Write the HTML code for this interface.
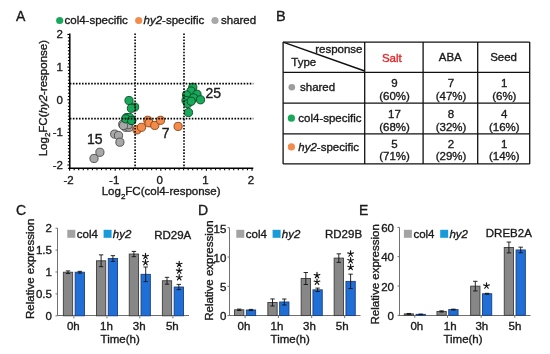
<!DOCTYPE html>
<html><head><meta charset="utf-8"><style>
html,body{margin:0;padding:0;background:#fff;width:550px;height:354px;overflow:hidden}
svg{display:block;font-family:"Liberation Sans", sans-serif;will-change:transform}
text{stroke-width:0.35px}
</style></head><body>
<svg width="550" height="354" viewBox="0 0 550 354">
<rect width="550" height="354" fill="#fff"/>
<text x="16" y="21.2" font-size="14" text-anchor="start" fill="#1a1a1a" stroke="#1a1a1a"  >A</text>
<text x="276" y="21.2" font-size="14.5" text-anchor="start" fill="#1a1a1a" stroke="#1a1a1a"  >B</text>
<text x="16" y="215" font-size="14" text-anchor="start" fill="#1a1a1a" stroke="#1a1a1a"  >C</text>
<text x="198" y="215.3" font-size="14" text-anchor="start" fill="#1a1a1a" stroke="#1a1a1a"  >D</text>
<text x="359" y="215.3" font-size="14" text-anchor="start" fill="#1a1a1a" stroke="#1a1a1a"  >E</text>
<circle cx="59.7" cy="20.5" r="3.6" fill="#18a85a" stroke="none" stroke-width="0"/>
<text x="64.5" y="24.2" font-size="11.5" text-anchor="start" fill="#1a1a1a" stroke="#1a1a1a"  >col4-specific</text>
<circle cx="138.7" cy="20.5" r="3.6" fill="#f28c4c" stroke="none" stroke-width="0"/>
<text x="143.5" y="24.2" font-size="11.5" text-anchor="start" fill="#1a1a1a" stroke="#1a1a1a"  ><tspan font-style="italic">hy2</tspan>-specific</text>
<circle cx="215" cy="20.5" r="3.6" fill="#a8a8a8" stroke="none" stroke-width="0"/>
<text x="221" y="24.2" font-size="11.5" text-anchor="start" fill="#1a1a1a" stroke="#1a1a1a"  >shared</text>
<line x1="67.89999999999999" y1="168.31" x2="69.8" y2="168.31" stroke="#000" stroke-width="1.1" />
<line x1="67.39999999999999" y1="165.04" x2="69.8" y2="165.04" stroke="#000" stroke-width="1.1" />
<line x1="67.89999999999999" y1="161.77" x2="69.8" y2="161.77" stroke="#000" stroke-width="1.1" />
<line x1="67.89999999999999" y1="158.51" x2="69.8" y2="158.51" stroke="#000" stroke-width="1.1" />
<line x1="67.89999999999999" y1="155.25" x2="69.8" y2="155.25" stroke="#000" stroke-width="1.1" />
<line x1="67.89999999999999" y1="151.98" x2="69.8" y2="151.98" stroke="#000" stroke-width="1.1" />
<line x1="67.89999999999999" y1="148.71" x2="69.8" y2="148.71" stroke="#000" stroke-width="1.1" />
<line x1="67.89999999999999" y1="145.45" x2="69.8" y2="145.45" stroke="#000" stroke-width="1.1" />
<line x1="67.89999999999999" y1="142.19" x2="69.8" y2="142.19" stroke="#000" stroke-width="1.1" />
<line x1="67.89999999999999" y1="138.92" x2="69.8" y2="138.92" stroke="#000" stroke-width="1.1" />
<line x1="67.89999999999999" y1="135.66" x2="69.8" y2="135.66" stroke="#000" stroke-width="1.1" />
<line x1="67.39999999999999" y1="132.39" x2="69.8" y2="132.39" stroke="#000" stroke-width="1.1" />
<line x1="67.89999999999999" y1="129.12" x2="69.8" y2="129.12" stroke="#000" stroke-width="1.1" />
<line x1="67.89999999999999" y1="125.86" x2="69.8" y2="125.86" stroke="#000" stroke-width="1.1" />
<line x1="67.89999999999999" y1="122.59" x2="69.8" y2="122.59" stroke="#000" stroke-width="1.1" />
<line x1="67.89999999999999" y1="119.33" x2="69.8" y2="119.33" stroke="#000" stroke-width="1.1" />
<line x1="67.89999999999999" y1="116.06" x2="69.8" y2="116.06" stroke="#000" stroke-width="1.1" />
<line x1="67.89999999999999" y1="112.8" x2="69.8" y2="112.8" stroke="#000" stroke-width="1.1" />
<line x1="67.89999999999999" y1="109.53" x2="69.8" y2="109.53" stroke="#000" stroke-width="1.1" />
<line x1="67.89999999999999" y1="106.27" x2="69.8" y2="106.27" stroke="#000" stroke-width="1.1" />
<line x1="67.89999999999999" y1="103.0" x2="69.8" y2="103.0" stroke="#000" stroke-width="1.1" />
<line x1="67.39999999999999" y1="99.74" x2="69.8" y2="99.74" stroke="#000" stroke-width="1.1" />
<line x1="67.89999999999999" y1="96.47" x2="69.8" y2="96.47" stroke="#000" stroke-width="1.1" />
<line x1="67.89999999999999" y1="93.21" x2="69.8" y2="93.21" stroke="#000" stroke-width="1.1" />
<line x1="67.89999999999999" y1="89.94" x2="69.8" y2="89.94" stroke="#000" stroke-width="1.1" />
<line x1="67.89999999999999" y1="86.68" x2="69.8" y2="86.68" stroke="#000" stroke-width="1.1" />
<line x1="67.89999999999999" y1="83.41" x2="69.8" y2="83.41" stroke="#000" stroke-width="1.1" />
<line x1="67.89999999999999" y1="80.15" x2="69.8" y2="80.15" stroke="#000" stroke-width="1.1" />
<line x1="67.89999999999999" y1="76.88" x2="69.8" y2="76.88" stroke="#000" stroke-width="1.1" />
<line x1="67.89999999999999" y1="73.62" x2="69.8" y2="73.62" stroke="#000" stroke-width="1.1" />
<line x1="67.89999999999999" y1="70.35" x2="69.8" y2="70.35" stroke="#000" stroke-width="1.1" />
<line x1="67.39999999999999" y1="67.09" x2="69.8" y2="67.09" stroke="#000" stroke-width="1.1" />
<line x1="67.89999999999999" y1="63.82" x2="69.8" y2="63.82" stroke="#000" stroke-width="1.1" />
<line x1="67.89999999999999" y1="60.56" x2="69.8" y2="60.56" stroke="#000" stroke-width="1.1" />
<line x1="67.89999999999999" y1="57.29" x2="69.8" y2="57.29" stroke="#000" stroke-width="1.1" />
<line x1="67.89999999999999" y1="54.03" x2="69.8" y2="54.03" stroke="#000" stroke-width="1.1" />
<line x1="67.89999999999999" y1="50.77" x2="69.8" y2="50.77" stroke="#000" stroke-width="1.1" />
<line x1="67.89999999999999" y1="47.5" x2="69.8" y2="47.5" stroke="#000" stroke-width="1.1" />
<line x1="67.89999999999999" y1="44.23" x2="69.8" y2="44.23" stroke="#000" stroke-width="1.1" />
<line x1="67.89999999999999" y1="40.97" x2="69.8" y2="40.97" stroke="#000" stroke-width="1.1" />
<line x1="67.89999999999999" y1="37.7" x2="69.8" y2="37.7" stroke="#000" stroke-width="1.1" />
<line x1="67.39999999999999" y1="34.44" x2="69.8" y2="34.44" stroke="#000" stroke-width="1.1" />
<line x1="69.6" y1="168.3" x2="69.6" y2="170.70000000000002" stroke="#000" stroke-width="1.1" />
<line x1="74.16" y1="168.3" x2="74.16" y2="170.20000000000002" stroke="#000" stroke-width="1.1" />
<line x1="78.72" y1="168.3" x2="78.72" y2="170.20000000000002" stroke="#000" stroke-width="1.1" />
<line x1="83.28" y1="168.3" x2="83.28" y2="170.20000000000002" stroke="#000" stroke-width="1.1" />
<line x1="87.84" y1="168.3" x2="87.84" y2="170.20000000000002" stroke="#000" stroke-width="1.1" />
<line x1="92.4" y1="168.3" x2="92.4" y2="170.20000000000002" stroke="#000" stroke-width="1.1" />
<line x1="96.96" y1="168.3" x2="96.96" y2="170.20000000000002" stroke="#000" stroke-width="1.1" />
<line x1="101.52" y1="168.3" x2="101.52" y2="170.20000000000002" stroke="#000" stroke-width="1.1" />
<line x1="106.08" y1="168.3" x2="106.08" y2="170.20000000000002" stroke="#000" stroke-width="1.1" />
<line x1="110.64" y1="168.3" x2="110.64" y2="170.20000000000002" stroke="#000" stroke-width="1.1" />
<line x1="115.2" y1="168.3" x2="115.2" y2="170.70000000000002" stroke="#000" stroke-width="1.1" />
<line x1="119.76" y1="168.3" x2="119.76" y2="170.20000000000002" stroke="#000" stroke-width="1.1" />
<line x1="124.32" y1="168.3" x2="124.32" y2="170.20000000000002" stroke="#000" stroke-width="1.1" />
<line x1="128.88" y1="168.3" x2="128.88" y2="170.20000000000002" stroke="#000" stroke-width="1.1" />
<line x1="133.44" y1="168.3" x2="133.44" y2="170.20000000000002" stroke="#000" stroke-width="1.1" />
<line x1="138.0" y1="168.3" x2="138.0" y2="170.20000000000002" stroke="#000" stroke-width="1.1" />
<line x1="142.56" y1="168.3" x2="142.56" y2="170.20000000000002" stroke="#000" stroke-width="1.1" />
<line x1="147.12" y1="168.3" x2="147.12" y2="170.20000000000002" stroke="#000" stroke-width="1.1" />
<line x1="151.68" y1="168.3" x2="151.68" y2="170.20000000000002" stroke="#000" stroke-width="1.1" />
<line x1="156.24" y1="168.3" x2="156.24" y2="170.20000000000002" stroke="#000" stroke-width="1.1" />
<line x1="160.8" y1="168.3" x2="160.8" y2="170.70000000000002" stroke="#000" stroke-width="1.1" />
<line x1="165.36" y1="168.3" x2="165.36" y2="170.20000000000002" stroke="#000" stroke-width="1.1" />
<line x1="169.92" y1="168.3" x2="169.92" y2="170.20000000000002" stroke="#000" stroke-width="1.1" />
<line x1="174.48" y1="168.3" x2="174.48" y2="170.20000000000002" stroke="#000" stroke-width="1.1" />
<line x1="179.04" y1="168.3" x2="179.04" y2="170.20000000000002" stroke="#000" stroke-width="1.1" />
<line x1="183.6" y1="168.3" x2="183.6" y2="170.20000000000002" stroke="#000" stroke-width="1.1" />
<line x1="188.16" y1="168.3" x2="188.16" y2="170.20000000000002" stroke="#000" stroke-width="1.1" />
<line x1="192.72" y1="168.3" x2="192.72" y2="170.20000000000002" stroke="#000" stroke-width="1.1" />
<line x1="197.28" y1="168.3" x2="197.28" y2="170.20000000000002" stroke="#000" stroke-width="1.1" />
<line x1="201.84" y1="168.3" x2="201.84" y2="170.20000000000002" stroke="#000" stroke-width="1.1" />
<line x1="206.4" y1="168.3" x2="206.4" y2="170.70000000000002" stroke="#000" stroke-width="1.1" />
<line x1="210.96" y1="168.3" x2="210.96" y2="170.20000000000002" stroke="#000" stroke-width="1.1" />
<line x1="215.52" y1="168.3" x2="215.52" y2="170.20000000000002" stroke="#000" stroke-width="1.1" />
<line x1="220.08" y1="168.3" x2="220.08" y2="170.20000000000002" stroke="#000" stroke-width="1.1" />
<line x1="224.64" y1="168.3" x2="224.64" y2="170.20000000000002" stroke="#000" stroke-width="1.1" />
<line x1="229.2" y1="168.3" x2="229.2" y2="170.20000000000002" stroke="#000" stroke-width="1.1" />
<line x1="233.76" y1="168.3" x2="233.76" y2="170.20000000000002" stroke="#000" stroke-width="1.1" />
<line x1="238.32" y1="168.3" x2="238.32" y2="170.20000000000002" stroke="#000" stroke-width="1.1" />
<line x1="242.88" y1="168.3" x2="242.88" y2="170.20000000000002" stroke="#000" stroke-width="1.1" />
<line x1="247.44" y1="168.3" x2="247.44" y2="170.20000000000002" stroke="#000" stroke-width="1.1" />
<line x1="252.0" y1="168.3" x2="252.0" y2="170.70000000000002" stroke="#000" stroke-width="1.1" />
<text x="63" y="38.44" font-size="11.5" text-anchor="end" fill="#1a1a1a" stroke="#1a1a1a"  >2</text>
<text x="63" y="71.09" font-size="11.5" text-anchor="end" fill="#1a1a1a" stroke="#1a1a1a"  >1</text>
<text x="63" y="103.74" font-size="11.5" text-anchor="end" fill="#1a1a1a" stroke="#1a1a1a"  >0</text>
<text x="63" y="136.39" font-size="11.5" text-anchor="end" fill="#1a1a1a" stroke="#1a1a1a"  >-1</text>
<text x="63" y="169.04" font-size="11.5" text-anchor="end" fill="#1a1a1a" stroke="#1a1a1a"  >-2</text>
<text x="68.6" y="184.2" font-size="11.5" text-anchor="middle" fill="#1a1a1a" stroke="#1a1a1a"  >-2</text>
<text x="114.2" y="184.2" font-size="11.5" text-anchor="middle" fill="#1a1a1a" stroke="#1a1a1a"  >-1</text>
<text x="159.8" y="184.2" font-size="11.5" text-anchor="middle" fill="#1a1a1a" stroke="#1a1a1a"  >0</text>
<text x="205.4" y="184.2" font-size="11.5" text-anchor="middle" fill="#1a1a1a" stroke="#1a1a1a"  >1</text>
<text x="251.0" y="184.2" font-size="11.5" text-anchor="middle" fill="#1a1a1a" stroke="#1a1a1a"  >2</text>
<text x="101.7" y="195.4" font-size="11.5" text-anchor="start" fill="#1a1a1a" stroke="#1a1a1a"  >Log<tspan font-size="8" dy="3.3">2</tspan><tspan dy="-3.3">FC(col4-response)</tspan></text>
<g transform="translate(47.1,156.3) rotate(-90)"><text x="0" y="0" font-size="11.5" fill="#1a1a1a" stroke="#1a1a1a">Log<tspan font-size="8" dy="3.3">2</tspan><tspan dy="-3.3">FC(</tspan><tspan font-style="italic">hy2</tspan>-response)</text></g>
<circle cx="114.7" cy="134.1" r="4.1" fill="#a8a8a8" stroke="#4a4a4a" stroke-width="0.9"/>
<circle cx="118.5" cy="135.5" r="4.1" fill="#a8a8a8" stroke="#4a4a4a" stroke-width="0.9"/>
<circle cx="119.9" cy="142.2" r="4.1" fill="#a8a8a8" stroke="#4a4a4a" stroke-width="0.9"/>
<circle cx="99.9" cy="152.3" r="4.1" fill="#a8a8a8" stroke="#4a4a4a" stroke-width="0.9"/>
<circle cx="94" cy="158.5" r="4.1" fill="#a8a8a8" stroke="#4a4a4a" stroke-width="0.9"/>
<circle cx="122.7" cy="124.3" r="4.1" fill="#a8a8a8" stroke="#4a4a4a" stroke-width="0.9"/>
<circle cx="125.7" cy="127.3" r="4.1" fill="#a8a8a8" stroke="#4a4a4a" stroke-width="0.9"/>
<circle cx="129" cy="127.3" r="4.1" fill="#a8a8a8" stroke="#4a4a4a" stroke-width="0.9"/>
<circle cx="128.2" cy="124.7" r="4.1" fill="#a8a8a8" stroke="#4a4a4a" stroke-width="0.9"/>
<circle cx="123.5" cy="125.5" r="4.1" fill="#a8a8a8" stroke="#4a4a4a" stroke-width="0.9"/>
<circle cx="137" cy="129.8" r="4.1" fill="#f28c4c" stroke="#8a4014" stroke-width="0.9"/>
<circle cx="141.5" cy="127.3" r="4.1" fill="#f28c4c" stroke="#8a4014" stroke-width="0.9"/>
<circle cx="147.8" cy="120.3" r="4.1" fill="#f28c4c" stroke="#8a4014" stroke-width="0.9"/>
<circle cx="149" cy="122.8" r="4.1" fill="#f28c4c" stroke="#8a4014" stroke-width="0.9"/>
<circle cx="154.8" cy="125.4" r="4.1" fill="#f28c4c" stroke="#8a4014" stroke-width="0.9"/>
<circle cx="160.5" cy="120.3" r="4.1" fill="#f28c4c" stroke="#8a4014" stroke-width="0.9"/>
<circle cx="178.1" cy="126.4" r="4.1" fill="#f28c4c" stroke="#8a4014" stroke-width="0.9"/>
<circle cx="129" cy="100.5" r="4.1" fill="#18a85a" stroke="#0a4a24" stroke-width="0.9"/>
<circle cx="134.6" cy="107" r="4.1" fill="#18a85a" stroke="#0a4a24" stroke-width="0.9"/>
<circle cx="131.4" cy="108.3" r="4.1" fill="#18a85a" stroke="#0a4a24" stroke-width="0.9"/>
<circle cx="126.8" cy="117.5" r="4.1" fill="#18a85a" stroke="#0a4a24" stroke-width="0.9"/>
<circle cx="131.8" cy="120.3" r="4.1" fill="#18a85a" stroke="#0a4a24" stroke-width="0.9"/>
<circle cx="129.5" cy="117.5" r="4.1" fill="#18a85a" stroke="#0a4a24" stroke-width="0.9"/>
<circle cx="125.7" cy="118.8" r="4.1" fill="#18a85a" stroke="#0a4a24" stroke-width="0.9"/>
<circle cx="131.6" cy="120.5" r="4.1" fill="#18a85a" stroke="#0a4a24" stroke-width="0.9"/>
<circle cx="192.8" cy="87.3" r="4.1" fill="#18a85a" stroke="#0a4a24" stroke-width="0.9"/>
<circle cx="191.1" cy="91" r="4.1" fill="#18a85a" stroke="#0a4a24" stroke-width="0.9"/>
<circle cx="197" cy="94.3" r="4.1" fill="#18a85a" stroke="#0a4a24" stroke-width="0.9"/>
<circle cx="186.5" cy="95" r="4.1" fill="#18a85a" stroke="#0a4a24" stroke-width="0.9"/>
<circle cx="186" cy="100.5" r="4.1" fill="#18a85a" stroke="#0a4a24" stroke-width="0.9"/>
<circle cx="187.8" cy="103.6" r="4.1" fill="#18a85a" stroke="#0a4a24" stroke-width="0.9"/>
<circle cx="188.5" cy="112.5" r="4.1" fill="#18a85a" stroke="#0a4a24" stroke-width="0.9"/>
<circle cx="193.5" cy="97.9" r="4.1" fill="#18a85a" stroke="#0a4a24" stroke-width="0.9"/>
<circle cx="200.5" cy="99.8" r="4.1" fill="#18a85a" stroke="#0a4a24" stroke-width="0.9"/>
<circle cx="191.2" cy="101.2" r="4.1" fill="#18a85a" stroke="#0a4a24" stroke-width="0.9"/>
<line x1="69.8" y1="83.6" x2="253.3" y2="83.6" stroke="#000" stroke-width="1.6" stroke-dasharray="1.6 1.45"/>
<line x1="69.8" y1="118.6" x2="253.3" y2="118.6" stroke="#000" stroke-width="1.6" stroke-dasharray="1.6 1.45"/>
<line x1="135.1" y1="33.4" x2="135.1" y2="168.3" stroke="#000" stroke-width="1.6" stroke-dasharray="1.6 1.45"/>
<line x1="184" y1="33.4" x2="184" y2="168.3" stroke="#000" stroke-width="1.6" stroke-dasharray="1.6 1.45"/>
<line x1="69.8" y1="33.4" x2="69.8" y2="169.0" stroke="#000" stroke-width="1.5" />
<line x1="69.1" y1="168.3" x2="253.3" y2="168.3" stroke="#000" stroke-width="1.5" />
<text x="87" y="144" font-size="14" text-anchor="start" fill="#1a1a1a" stroke="#1a1a1a"  >15</text>
<text x="161.8" y="138.2" font-size="14" text-anchor="start" fill="#1a1a1a" stroke="#1a1a1a"  >7</text>
<text x="205.5" y="97.6" font-size="14" text-anchor="start" fill="#1a1a1a" stroke="#1a1a1a"  >25</text>
<line x1="283.1" y1="42.1" x2="283.1" y2="163.9" stroke="#111" stroke-width="1.3" />
<line x1="364.7" y1="42.1" x2="364.7" y2="163.9" stroke="#111" stroke-width="1.3" />
<line x1="423.1" y1="42.1" x2="423.1" y2="163.9" stroke="#111" stroke-width="1.3" />
<line x1="477.7" y1="42.1" x2="477.7" y2="163.9" stroke="#111" stroke-width="1.3" />
<line x1="529.7" y1="42.1" x2="529.7" y2="163.9" stroke="#111" stroke-width="1.3" />
<line x1="283.1" y1="42.1" x2="529.7" y2="42.1" stroke="#111" stroke-width="1.3" />
<line x1="283.1" y1="72.4" x2="529.7" y2="72.4" stroke="#111" stroke-width="1.3" />
<line x1="283.1" y1="103.2" x2="529.7" y2="103.2" stroke="#111" stroke-width="1.3" />
<line x1="283.1" y1="133.8" x2="529.7" y2="133.8" stroke="#111" stroke-width="1.3" />
<line x1="283.1" y1="163.9" x2="529.7" y2="163.9" stroke="#111" stroke-width="1.3" />
<line x1="283.1" y1="42.1" x2="364.7" y2="71.0" stroke="#111" stroke-width="1.5" />
<text x="362.5" y="52.9" font-size="11.5" text-anchor="end" fill="#1a1a1a" stroke="#1a1a1a"  >response</text>
<text x="291.3" y="65.6" font-size="11.5" text-anchor="start" fill="#1a1a1a" stroke="#1a1a1a"  >Type</text>
<text x="391.8" y="61.5" font-size="11.5" text-anchor="middle" fill="#e8262a" stroke="#e8262a"  >Salt</text>
<text x="450.3" y="61.0" font-size="11.5" text-anchor="middle" fill="#1a1a1a" stroke="#1a1a1a"  >ABA</text>
<text x="503.6" y="61.0" font-size="11.5" text-anchor="middle" fill="#1a1a1a" stroke="#1a1a1a"  >Seed</text>
<circle cx="291.8" cy="87.2" r="3.3" fill="#9d9d9d" stroke="none" stroke-width="0"/>
<text x="300.0" y="90.8" font-size="11.5" text-anchor="start" fill="#1a1a1a" stroke="#1a1a1a"  >shared</text>
<circle cx="291.4" cy="118.2" r="3.6" fill="#18a85a" stroke="none" stroke-width="0"/>
<text x="298.3" y="121.6" font-size="11.5" text-anchor="start" fill="#1a1a1a" stroke="#1a1a1a"  >col4-specific</text>
<circle cx="291.4" cy="146.9" r="3.6" fill="#f28c4c" stroke="none" stroke-width="0"/>
<text x="298.3" y="150.8" font-size="11.5" text-anchor="start" fill="#1a1a1a" stroke="#1a1a1a"  ><tspan font-style="italic">hy2</tspan>-specific</text>
<text x="394.5" y="86.8" font-size="11.5" text-anchor="middle" fill="#1a1a1a" stroke="#1a1a1a"  >9</text>
<text x="394.5" y="100.2" font-size="11.5" text-anchor="middle" fill="#1a1a1a" stroke="#1a1a1a"  >(60%)</text>
<text x="451.0" y="86.8" font-size="11.5" text-anchor="middle" fill="#1a1a1a" stroke="#1a1a1a"  >7</text>
<text x="451.0" y="100.2" font-size="11.5" text-anchor="middle" fill="#1a1a1a" stroke="#1a1a1a"  >(47%)</text>
<text x="504.3" y="86.8" font-size="11.5" text-anchor="middle" fill="#1a1a1a" stroke="#1a1a1a"  >1</text>
<text x="504.3" y="100.2" font-size="11.5" text-anchor="middle" fill="#1a1a1a" stroke="#1a1a1a"  >(6%)</text>
<text x="394.5" y="117.8" font-size="11.5" text-anchor="middle" fill="#1a1a1a" stroke="#1a1a1a"  >17</text>
<text x="394.5" y="130.8" font-size="11.5" text-anchor="middle" fill="#1a1a1a" stroke="#1a1a1a"  >(68%)</text>
<text x="451.0" y="117.8" font-size="11.5" text-anchor="middle" fill="#1a1a1a" stroke="#1a1a1a"  >8</text>
<text x="451.0" y="130.8" font-size="11.5" text-anchor="middle" fill="#1a1a1a" stroke="#1a1a1a"  >(32%)</text>
<text x="504.3" y="117.8" font-size="11.5" text-anchor="middle" fill="#1a1a1a" stroke="#1a1a1a"  >4</text>
<text x="504.3" y="130.8" font-size="11.5" text-anchor="middle" fill="#1a1a1a" stroke="#1a1a1a"  >(16%)</text>
<text x="394.5" y="148.2" font-size="11.5" text-anchor="middle" fill="#1a1a1a" stroke="#1a1a1a"  >5</text>
<text x="394.5" y="159.8" font-size="11.5" text-anchor="middle" fill="#1a1a1a" stroke="#1a1a1a"  >(71%)</text>
<text x="451.0" y="148.2" font-size="11.5" text-anchor="middle" fill="#1a1a1a" stroke="#1a1a1a"  >2</text>
<text x="451.0" y="159.8" font-size="11.5" text-anchor="middle" fill="#1a1a1a" stroke="#1a1a1a"  >(29%)</text>
<text x="504.3" y="148.2" font-size="11.5" text-anchor="middle" fill="#1a1a1a" stroke="#1a1a1a"  >1</text>
<text x="504.3" y="159.8" font-size="11.5" text-anchor="middle" fill="#1a1a1a" stroke="#1a1a1a"  >(14%)</text>
<line x1="57.5" y1="228.20000000000002" x2="57.5" y2="316" stroke="#707070" stroke-width="1" />
<line x1="57.5" y1="315.5" x2="189" y2="315.5" stroke="#707070" stroke-width="1" />
<line x1="55.5" y1="315.8" x2="57.5" y2="315.8" stroke="#707070" stroke-width="1" />
<text x="51.9" y="319.8" font-size="11.5" text-anchor="end" fill="#1a1a1a" stroke="#1a1a1a"  >0</text>
<line x1="55.5" y1="293.9" x2="57.5" y2="293.9" stroke="#707070" stroke-width="1" />
<text x="51.9" y="297.9" font-size="11.5" text-anchor="end" fill="#1a1a1a" stroke="#1a1a1a"  >0.5</text>
<line x1="55.5" y1="272.0" x2="57.5" y2="272.0" stroke="#707070" stroke-width="1" />
<text x="51.9" y="276.0" font-size="11.5" text-anchor="end" fill="#1a1a1a" stroke="#1a1a1a"  >1</text>
<line x1="55.5" y1="250.1" x2="57.5" y2="250.1" stroke="#707070" stroke-width="1" />
<text x="51.9" y="254.1" font-size="11.5" text-anchor="end" fill="#1a1a1a" stroke="#1a1a1a"  >1.5</text>
<line x1="55.5" y1="228.2" x2="57.5" y2="228.2" stroke="#707070" stroke-width="1" />
<text x="51.9" y="232.2" font-size="11.5" text-anchor="end" fill="#1a1a1a" stroke="#1a1a1a"  >2</text>
<rect x="63.35" y="272.22" width="9.3" height="43.58" fill="#878787" stroke="#3c3c3c" stroke-width="0.9"/>
<line x1="68.0" y1="270.91" x2="68.0" y2="273.53" stroke="#111" stroke-width="0.9" />
<line x1="65.8" y1="270.91" x2="70.2" y2="270.91" stroke="#111" stroke-width="0.9" />
<line x1="65.8" y1="273.53" x2="70.2" y2="273.53" stroke="#111" stroke-width="0.9" />
<rect x="75.15" y="272.22" width="9.3" height="43.58" fill="#1f6fd6" stroke="#1b3f80" stroke-width="0.9"/>
<line x1="79.8" y1="271.34" x2="79.8" y2="273.1" stroke="#111" stroke-width="0.9" />
<line x1="77.6" y1="271.34" x2="82.0" y2="271.34" stroke="#111" stroke-width="0.9" />
<line x1="77.6" y1="273.1" x2="82.0" y2="273.1" stroke="#111" stroke-width="0.9" />
<line x1="73.9" y1="315.8" x2="73.9" y2="318.3" stroke="#707070" stroke-width="1" />
<rect x="96.45" y="260.79" width="9.3" height="55.01" fill="#878787" stroke="#3c3c3c" stroke-width="0.9"/>
<line x1="101.1" y1="254.87" x2="101.1" y2="266.7" stroke="#111" stroke-width="0.9" />
<line x1="98.9" y1="254.87" x2="103.3" y2="254.87" stroke="#111" stroke-width="0.9" />
<line x1="98.9" y1="266.7" x2="103.3" y2="266.7" stroke="#111" stroke-width="0.9" />
<rect x="108.25" y="258.51" width="9.3" height="57.29" fill="#1f6fd6" stroke="#1b3f80" stroke-width="0.9"/>
<line x1="112.9" y1="255.66" x2="112.9" y2="261.36" stroke="#111" stroke-width="0.9" />
<line x1="110.7" y1="255.66" x2="115.1" y2="255.66" stroke="#111" stroke-width="0.9" />
<line x1="110.7" y1="261.36" x2="115.1" y2="261.36" stroke="#111" stroke-width="0.9" />
<line x1="107" y1="315.8" x2="107" y2="318.3" stroke="#707070" stroke-width="1" />
<rect x="129.25" y="254.04" width="9.3" height="61.76" fill="#878787" stroke="#3c3c3c" stroke-width="0.9"/>
<line x1="133.9" y1="251.41" x2="133.9" y2="256.67" stroke="#111" stroke-width="0.9" />
<line x1="131.7" y1="251.41" x2="136.1" y2="251.41" stroke="#111" stroke-width="0.9" />
<line x1="131.7" y1="256.67" x2="136.1" y2="256.67" stroke="#111" stroke-width="0.9" />
<rect x="141.05" y="274.32" width="9.3" height="41.48" fill="#1f6fd6" stroke="#1b3f80" stroke-width="0.9"/>
<line x1="145.7" y1="267.01" x2="145.7" y2="281.64" stroke="#111" stroke-width="0.9" />
<line x1="143.5" y1="267.01" x2="147.9" y2="267.01" stroke="#111" stroke-width="0.9" />
<line x1="143.5" y1="281.64" x2="147.9" y2="281.64" stroke="#111" stroke-width="0.9" />
<line x1="139.8" y1="315.8" x2="139.8" y2="318.3" stroke="#707070" stroke-width="1" />
<rect x="162.35" y="280.76" width="9.3" height="35.04" fill="#878787" stroke="#3c3c3c" stroke-width="0.9"/>
<line x1="167.0" y1="277.34" x2="167.0" y2="284.18" stroke="#111" stroke-width="0.9" />
<line x1="164.8" y1="277.34" x2="169.2" y2="277.34" stroke="#111" stroke-width="0.9" />
<line x1="164.8" y1="284.18" x2="169.2" y2="284.18" stroke="#111" stroke-width="0.9" />
<rect x="174.15" y="287.02" width="9.3" height="28.78" fill="#1f6fd6" stroke="#1b3f80" stroke-width="0.9"/>
<line x1="178.8" y1="284.4" x2="178.8" y2="289.65" stroke="#111" stroke-width="0.9" />
<line x1="176.6" y1="284.4" x2="181.0" y2="284.4" stroke="#111" stroke-width="0.9" />
<line x1="176.6" y1="289.65" x2="181.0" y2="289.65" stroke="#111" stroke-width="0.9" />
<line x1="172.9" y1="315.8" x2="172.9" y2="318.3" stroke="#707070" stroke-width="1" />
<text x="73.3" y="330.2" font-size="11.5" text-anchor="middle" fill="#1a1a1a" stroke="#1a1a1a"  >0h</text>
<text x="106.4" y="330.2" font-size="11.5" text-anchor="middle" fill="#1a1a1a" stroke="#1a1a1a"  >1h</text>
<text x="139.2" y="330.2" font-size="11.5" text-anchor="middle" fill="#1a1a1a" stroke="#1a1a1a"  >3h</text>
<text x="172.3" y="330.2" font-size="11.5" text-anchor="middle" fill="#1a1a1a" stroke="#1a1a1a"  >5h</text>
<text x="120.2" y="343.0" font-size="11.5" text-anchor="middle" fill="#1a1a1a" stroke="#1a1a1a"  >Time(h)</text>
<rect x="67.3" y="229.8" width="8" height="8" fill="#a3a3a3" stroke="none" stroke-width="0"/>
<text x="76.8" y="238.0" font-size="11.5" text-anchor="start" fill="#1a1a1a" stroke="#1a1a1a"  >col4</text>
<rect x="103.6" y="229.8" width="8" height="8" fill="#1a9bd9" stroke="none" stroke-width="0"/>
<text x="112.8" y="238.0" font-size="11.5" text-anchor="start" fill="#1a1a1a" stroke="#1a1a1a"  ><tspan font-style="italic">hy2</tspan></text>
<text x="154.2" y="238.6" font-size="11.5" text-anchor="start" fill="#1a1a1a" stroke="#1a1a1a"  >RD29A</text>
<g transform="translate(34.1,319) rotate(-90)"><text x="0" y="0" font-size="11.5" fill="#1a1a1a" stroke="#1a1a1a">Relative expression</text></g>
<path d="M145.50 256.30L145.50 253.30M145.50 256.30L148.35 255.37M145.50 256.30L147.26 258.73M145.50 256.30L143.74 258.73M145.50 256.30L142.65 255.37" stroke="#111" stroke-width="1.15" stroke-linecap="round" fill="none"/>
<path d="M145.50 262.50L145.50 259.50M145.50 262.50L148.35 261.57M145.50 262.50L147.26 264.93M145.50 262.50L143.74 264.93M145.50 262.50L142.65 261.57" stroke="#111" stroke-width="1.15" stroke-linecap="round" fill="none"/>
<path d="M179.20 264.20L179.20 261.20M179.20 264.20L182.05 263.27M179.20 264.20L180.96 266.63M179.20 264.20L177.44 266.63M179.20 264.20L176.35 263.27" stroke="#111" stroke-width="1.15" stroke-linecap="round" fill="none"/>
<path d="M179.20 270.85L179.20 267.85M179.20 270.85L182.05 269.92M179.20 270.85L180.96 273.28M179.20 270.85L177.44 273.28M179.20 270.85L176.35 269.92" stroke="#111" stroke-width="1.15" stroke-linecap="round" fill="none"/>
<path d="M179.20 277.50L179.20 274.50M179.20 277.50L182.05 276.57M179.20 277.50L180.96 279.93M179.20 277.50L177.44 279.93M179.20 277.50L176.35 276.57" stroke="#111" stroke-width="1.15" stroke-linecap="round" fill="none"/>
<line x1="229.5" y1="227.70000000000002" x2="229.5" y2="316" stroke="#707070" stroke-width="1" />
<line x1="229.5" y1="315.5" x2="360.5" y2="315.5" stroke="#707070" stroke-width="1" />
<line x1="227.5" y1="315.6" x2="229.5" y2="315.6" stroke="#707070" stroke-width="1" />
<text x="226.4" y="320.4" font-size="11.5" text-anchor="end" fill="#1a1a1a" stroke="#1a1a1a"  >0</text>
<line x1="227.5" y1="286.3" x2="229.5" y2="286.3" stroke="#707070" stroke-width="1" />
<text x="226.4" y="291.1" font-size="11.5" text-anchor="end" fill="#1a1a1a" stroke="#1a1a1a"  >5</text>
<line x1="227.5" y1="257.0" x2="229.5" y2="257.0" stroke="#707070" stroke-width="1" />
<text x="226.4" y="261.8" font-size="11.5" text-anchor="end" fill="#1a1a1a" stroke="#1a1a1a"  >10</text>
<line x1="227.5" y1="227.7" x2="229.5" y2="227.7" stroke="#707070" stroke-width="1" />
<text x="226.4" y="232.5" font-size="11.5" text-anchor="end" fill="#1a1a1a" stroke="#1a1a1a"  >15</text>
<rect x="234.55" y="309.8" width="9.3" height="5.8" fill="#878787" stroke="#3c3c3c" stroke-width="0.9"/>
<line x1="239.2" y1="309.1" x2="239.2" y2="310.5" stroke="#111" stroke-width="0.9" />
<line x1="237.0" y1="309.1" x2="241.4" y2="309.1" stroke="#111" stroke-width="0.9" />
<line x1="237.0" y1="310.5" x2="241.4" y2="310.5" stroke="#111" stroke-width="0.9" />
<rect x="246.35" y="309.97" width="9.3" height="5.63" fill="#1f6fd6" stroke="#1b3f80" stroke-width="0.9"/>
<line x1="251.0" y1="309.39" x2="251.0" y2="310.56" stroke="#111" stroke-width="0.9" />
<line x1="248.8" y1="309.39" x2="253.2" y2="309.39" stroke="#111" stroke-width="0.9" />
<line x1="248.8" y1="310.56" x2="253.2" y2="310.56" stroke="#111" stroke-width="0.9" />
<line x1="245.1" y1="315.6" x2="245.1" y2="318.1" stroke="#707070" stroke-width="1" />
<rect x="267.85" y="302.47" width="9.3" height="13.13" fill="#878787" stroke="#3c3c3c" stroke-width="0.9"/>
<line x1="272.5" y1="298.96" x2="272.5" y2="305.99" stroke="#111" stroke-width="0.9" />
<line x1="270.3" y1="298.96" x2="274.7" y2="298.96" stroke="#111" stroke-width="0.9" />
<line x1="270.3" y1="305.99" x2="274.7" y2="305.99" stroke="#111" stroke-width="0.9" />
<rect x="279.65" y="302.0" width="9.3" height="13.6" fill="#1f6fd6" stroke="#1b3f80" stroke-width="0.9"/>
<line x1="284.3" y1="299.02" x2="284.3" y2="304.99" stroke="#111" stroke-width="0.9" />
<line x1="282.1" y1="299.02" x2="286.5" y2="299.02" stroke="#111" stroke-width="0.9" />
<line x1="282.1" y1="304.99" x2="286.5" y2="304.99" stroke="#111" stroke-width="0.9" />
<line x1="278.4" y1="315.6" x2="278.4" y2="318.1" stroke="#707070" stroke-width="1" />
<rect x="301.15" y="278.51" width="9.3" height="37.09" fill="#878787" stroke="#3c3c3c" stroke-width="0.9"/>
<line x1="305.8" y1="272.53" x2="305.8" y2="284.48" stroke="#111" stroke-width="0.9" />
<line x1="303.6" y1="272.53" x2="308.0" y2="272.53" stroke="#111" stroke-width="0.9" />
<line x1="303.6" y1="284.48" x2="308.0" y2="284.48" stroke="#111" stroke-width="0.9" />
<rect x="312.95" y="289.82" width="9.3" height="25.78" fill="#1f6fd6" stroke="#1b3f80" stroke-width="0.9"/>
<line x1="317.6" y1="288.12" x2="317.6" y2="291.52" stroke="#111" stroke-width="0.9" />
<line x1="315.4" y1="288.12" x2="319.8" y2="288.12" stroke="#111" stroke-width="0.9" />
<line x1="315.4" y1="291.52" x2="319.8" y2="291.52" stroke="#111" stroke-width="0.9" />
<line x1="311.7" y1="315.6" x2="311.7" y2="318.1" stroke="#707070" stroke-width="1" />
<rect x="334.15" y="258.11" width="9.3" height="57.49" fill="#878787" stroke="#3c3c3c" stroke-width="0.9"/>
<line x1="338.8" y1="253.84" x2="338.8" y2="262.39" stroke="#111" stroke-width="0.9" />
<line x1="336.6" y1="253.84" x2="341.0" y2="253.84" stroke="#111" stroke-width="0.9" />
<line x1="336.6" y1="262.39" x2="341.0" y2="262.39" stroke="#111" stroke-width="0.9" />
<rect x="345.95" y="281.38" width="9.3" height="34.22" fill="#1f6fd6" stroke="#1b3f80" stroke-width="0.9"/>
<line x1="350.6" y1="274.17" x2="350.6" y2="288.59" stroke="#111" stroke-width="0.9" />
<line x1="348.4" y1="274.17" x2="352.8" y2="274.17" stroke="#111" stroke-width="0.9" />
<line x1="348.4" y1="288.59" x2="352.8" y2="288.59" stroke="#111" stroke-width="0.9" />
<line x1="344.7" y1="315.6" x2="344.7" y2="318.1" stroke="#707070" stroke-width="1" />
<text x="243.9" y="330.2" font-size="11.5" text-anchor="middle" fill="#1a1a1a" stroke="#1a1a1a"  >0h</text>
<text x="277.0" y="330.2" font-size="11.5" text-anchor="middle" fill="#1a1a1a" stroke="#1a1a1a"  >1h</text>
<text x="309.5" y="330.2" font-size="11.5" text-anchor="middle" fill="#1a1a1a" stroke="#1a1a1a"  >3h</text>
<text x="342.2" y="330.2" font-size="11.5" text-anchor="middle" fill="#1a1a1a" stroke="#1a1a1a"  >5h</text>
<text x="290.2" y="343.0" font-size="11.5" text-anchor="middle" fill="#1a1a1a" stroke="#1a1a1a"  >Time(h)</text>
<rect x="236.3" y="229.8" width="8" height="8" fill="#a3a3a3" stroke="none" stroke-width="0"/>
<text x="245.8" y="238.0" font-size="11.5" text-anchor="start" fill="#1a1a1a" stroke="#1a1a1a"  >col4</text>
<rect x="272.6" y="229.8" width="8" height="8" fill="#1a9bd9" stroke="none" stroke-width="0"/>
<text x="281.8" y="238.0" font-size="11.5" text-anchor="start" fill="#1a1a1a" stroke="#1a1a1a"  ><tspan font-style="italic">hy2</tspan></text>
<text x="325.0" y="237.8" font-size="11.5" text-anchor="start" fill="#1a1a1a" stroke="#1a1a1a"  >RD29B</text>
<g transform="translate(212.6,320.8) rotate(-90)"><text x="0" y="0" font-size="11.5" fill="#1a1a1a" stroke="#1a1a1a">Relative expression</text></g>
<path d="M317.00 275.40L317.00 272.40M317.00 275.40L319.85 274.47M317.00 275.40L318.76 277.83M317.00 275.40L315.24 277.83M317.00 275.40L314.15 274.47" stroke="#111" stroke-width="1.15" stroke-linecap="round" fill="none"/>
<path d="M317.00 282.00L317.00 279.00M317.00 282.00L319.85 281.07M317.00 282.00L318.76 284.43M317.00 282.00L315.24 284.43M317.00 282.00L314.15 281.07" stroke="#111" stroke-width="1.15" stroke-linecap="round" fill="none"/>
<path d="M350.60 253.80L350.60 250.80M350.60 253.80L353.45 252.87M350.60 253.80L352.36 256.23M350.60 253.80L348.84 256.23M350.60 253.80L347.75 252.87" stroke="#111" stroke-width="1.15" stroke-linecap="round" fill="none"/>
<path d="M350.60 260.50L350.60 257.50M350.60 260.50L353.45 259.57M350.60 260.50L352.36 262.93M350.60 260.50L348.84 262.93M350.60 260.50L347.75 259.57" stroke="#111" stroke-width="1.15" stroke-linecap="round" fill="none"/>
<path d="M350.60 267.20L350.60 264.20M350.60 267.20L353.45 266.27M350.60 267.20L352.36 269.63M350.60 267.20L348.84 269.63M350.60 267.20L347.75 266.27" stroke="#111" stroke-width="1.15" stroke-linecap="round" fill="none"/>
<line x1="399.5" y1="227.4" x2="399.5" y2="316" stroke="#707070" stroke-width="1" />
<line x1="399.5" y1="315.5" x2="530.5" y2="315.5" stroke="#707070" stroke-width="1" />
<line x1="397.5" y1="315.3" x2="399.5" y2="315.3" stroke="#707070" stroke-width="1" />
<text x="394.0" y="320.0" font-size="11.5" text-anchor="end" fill="#1a1a1a" stroke="#1a1a1a"  >0</text>
<line x1="397.5" y1="286.0" x2="399.5" y2="286.0" stroke="#707070" stroke-width="1" />
<text x="394.0" y="290.7" font-size="11.5" text-anchor="end" fill="#1a1a1a" stroke="#1a1a1a"  >20</text>
<line x1="397.5" y1="256.7" x2="399.5" y2="256.7" stroke="#707070" stroke-width="1" />
<text x="394.0" y="261.4" font-size="11.5" text-anchor="end" fill="#1a1a1a" stroke="#1a1a1a"  >40</text>
<line x1="397.5" y1="227.4" x2="399.5" y2="227.4" stroke="#707070" stroke-width="1" />
<text x="394.0" y="232.1" font-size="11.5" text-anchor="end" fill="#1a1a1a" stroke="#1a1a1a"  >60</text>
<rect x="404.25" y="313.91" width="9.3" height="1.39" fill="#878787" stroke="#3c3c3c" stroke-width="0.9"/>
<line x1="408.9" y1="313.47" x2="408.9" y2="314.35" stroke="#111" stroke-width="0.9" />
<line x1="406.7" y1="313.47" x2="411.1" y2="313.47" stroke="#111" stroke-width="0.9" />
<line x1="406.7" y1="314.35" x2="411.1" y2="314.35" stroke="#111" stroke-width="0.9" />
<rect x="416.05" y="314.35" width="9.3" height="0.95" fill="#1f6fd6" stroke="#1b3f80" stroke-width="0.9"/>
<line x1="420.7" y1="314.05" x2="420.7" y2="314.64" stroke="#111" stroke-width="0.9" />
<line x1="418.5" y1="314.05" x2="422.9" y2="314.05" stroke="#111" stroke-width="0.9" />
<line x1="418.5" y1="314.64" x2="422.9" y2="314.64" stroke="#111" stroke-width="0.9" />
<line x1="414.8" y1="315.3" x2="414.8" y2="317.8" stroke="#707070" stroke-width="1" />
<rect x="436.95" y="311.42" width="9.3" height="3.88" fill="#878787" stroke="#3c3c3c" stroke-width="0.9"/>
<line x1="441.6" y1="310.83" x2="441.6" y2="312.0" stroke="#111" stroke-width="0.9" />
<line x1="439.4" y1="310.83" x2="443.8" y2="310.83" stroke="#111" stroke-width="0.9" />
<line x1="439.4" y1="312.0" x2="443.8" y2="312.0" stroke="#111" stroke-width="0.9" />
<rect x="448.75" y="309.59" width="9.3" height="5.71" fill="#1f6fd6" stroke="#1b3f80" stroke-width="0.9"/>
<line x1="453.4" y1="309.15" x2="453.4" y2="310.03" stroke="#111" stroke-width="0.9" />
<line x1="451.2" y1="309.15" x2="455.6" y2="309.15" stroke="#111" stroke-width="0.9" />
<line x1="451.2" y1="310.03" x2="455.6" y2="310.03" stroke="#111" stroke-width="0.9" />
<line x1="447.5" y1="315.3" x2="447.5" y2="317.8" stroke="#707070" stroke-width="1" />
<rect x="470.65" y="286.15" width="9.3" height="29.15" fill="#878787" stroke="#3c3c3c" stroke-width="0.9"/>
<line x1="475.3" y1="281.31" x2="475.3" y2="290.98" stroke="#111" stroke-width="0.9" />
<line x1="473.1" y1="281.31" x2="477.5" y2="281.31" stroke="#111" stroke-width="0.9" />
<line x1="473.1" y1="290.98" x2="477.5" y2="290.98" stroke="#111" stroke-width="0.9" />
<rect x="482.45" y="293.76" width="9.3" height="21.54" fill="#1f6fd6" stroke="#1b3f80" stroke-width="0.9"/>
<line x1="487.1" y1="293.32" x2="487.1" y2="294.2" stroke="#111" stroke-width="0.9" />
<line x1="484.9" y1="293.32" x2="489.3" y2="293.32" stroke="#111" stroke-width="0.9" />
<line x1="484.9" y1="294.2" x2="489.3" y2="294.2" stroke="#111" stroke-width="0.9" />
<line x1="481.2" y1="315.3" x2="481.2" y2="317.8" stroke="#707070" stroke-width="1" />
<rect x="504.25" y="247.47" width="9.3" height="67.83" fill="#878787" stroke="#3c3c3c" stroke-width="0.9"/>
<line x1="508.9" y1="242.05" x2="508.9" y2="252.89" stroke="#111" stroke-width="0.9" />
<line x1="506.7" y1="242.05" x2="511.1" y2="242.05" stroke="#111" stroke-width="0.9" />
<line x1="506.7" y1="252.89" x2="511.1" y2="252.89" stroke="#111" stroke-width="0.9" />
<rect x="516.05" y="249.96" width="9.3" height="65.34" fill="#1f6fd6" stroke="#1b3f80" stroke-width="0.9"/>
<line x1="520.7" y1="247.18" x2="520.7" y2="252.74" stroke="#111" stroke-width="0.9" />
<line x1="518.5" y1="247.18" x2="522.9" y2="247.18" stroke="#111" stroke-width="0.9" />
<line x1="518.5" y1="252.74" x2="522.9" y2="252.74" stroke="#111" stroke-width="0.9" />
<line x1="514.8" y1="315.3" x2="514.8" y2="317.8" stroke="#707070" stroke-width="1" />
<text x="416.8" y="330.2" font-size="11.5" text-anchor="middle" fill="#1a1a1a" stroke="#1a1a1a"  >0h</text>
<text x="450.2" y="330.2" font-size="11.5" text-anchor="middle" fill="#1a1a1a" stroke="#1a1a1a"  >1h</text>
<text x="481.8" y="330.2" font-size="11.5" text-anchor="middle" fill="#1a1a1a" stroke="#1a1a1a"  >3h</text>
<text x="514.9" y="330.2" font-size="11.5" text-anchor="middle" fill="#1a1a1a" stroke="#1a1a1a"  >5h</text>
<text x="463.0" y="343.0" font-size="11.5" text-anchor="middle" fill="#1a1a1a" stroke="#1a1a1a"  >Time(h)</text>
<rect x="403.9" y="229.8" width="8" height="8" fill="#a3a3a3" stroke="none" stroke-width="0"/>
<text x="413.4" y="238.0" font-size="11.5" text-anchor="start" fill="#1a1a1a" stroke="#1a1a1a"  >col4</text>
<rect x="440.2" y="229.8" width="8" height="8" fill="#1a9bd9" stroke="none" stroke-width="0"/>
<text x="449.4" y="238.0" font-size="11.5" text-anchor="start" fill="#1a1a1a" stroke="#1a1a1a"  ><tspan font-style="italic">hy2</tspan></text>
<text x="485.8" y="237.2" font-size="11.5" text-anchor="start" fill="#1a1a1a" stroke="#1a1a1a"  >DREB2A</text>
<g transform="translate(378.8,324.5) rotate(-90)"><text x="0" y="0" font-size="11.5" fill="#1a1a1a" stroke="#1a1a1a">Relative expression</text></g>
<path d="M486.50 285.80L486.50 282.80M486.50 285.80L489.35 284.87M486.50 285.80L488.26 288.23M486.50 285.80L484.74 288.23M486.50 285.80L483.65 284.87" stroke="#111" stroke-width="1.15" stroke-linecap="round" fill="none"/>
</svg></body></html>
